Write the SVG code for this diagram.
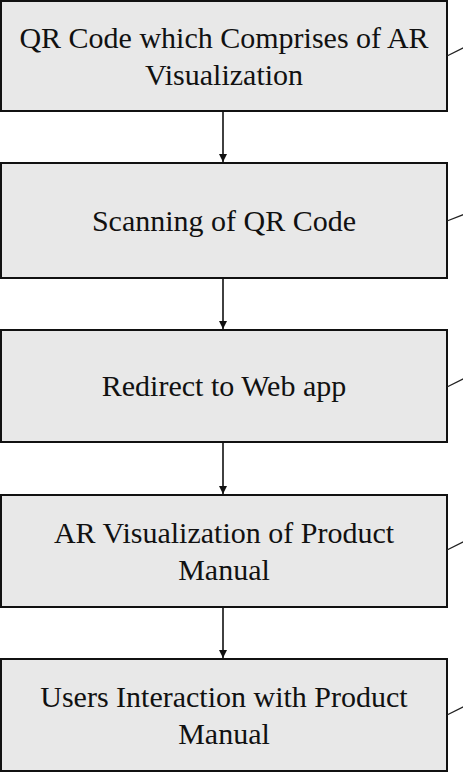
<svg xmlns="http://www.w3.org/2000/svg" width="463" height="772" viewBox="0 0 463 772">
<defs>
<style>
.box{fill:#e8e8e8;stroke:#111;stroke-width:2}
.t{font-family:"Liberation Serif","Times New Roman",serif;font-size:30px;fill:#111;text-anchor:middle}
.c{stroke:#111;stroke-width:1.6;fill:none}
.lead{stroke:#222;stroke-width:1.3;fill:none}
</style>
<marker id="ah" viewBox="0 0 8 10" refX="8" refY="5" markerWidth="8" markerHeight="10" markerUnits="userSpaceOnUse" orient="auto">
<path d="M0,1 L8,5 L0,9 Z" fill="#111"/>
</marker>
</defs>
<rect width="463" height="772" fill="#fff"/>
<g id="n1">
<rect class="box" x="1" y="1" width="446" height="110"/>
<text class="t" x="224" y="48">QR Code which Comprises of AR</text>
<text class="t" x="224" y="85">Visualization</text>
</g>
<g id="n2">
<rect class="box" x="1" y="163" width="446" height="115"/>
<text class="t" x="224" y="231">Scanning of QR Code</text>
</g>
<g id="n3">
<rect class="box" x="1" y="330" width="446" height="112"/>
<text class="t" x="224" y="396">Redirect to Web app</text>
</g>
<g id="n4">
<rect class="box" x="1" y="495" width="446" height="112"/>
<text class="t" x="224" y="543">AR Visualization of Product</text>
<text class="t" x="224" y="580">Manual</text>
</g>
<g id="n5">
<rect class="box" x="1" y="659" width="446" height="112"/>
<text class="t" x="224" y="707">Users Interaction with Product</text>
<text class="t" x="224" y="744">Manual</text>
</g>
<g id="connectors">
<line class="c" x1="223" y1="111" x2="223" y2="162" marker-end="url(#ah)"/>
<line class="c" x1="223" y1="278" x2="223" y2="329" marker-end="url(#ah)"/>
<line class="c" x1="223" y1="442" x2="223" y2="494" marker-end="url(#ah)"/>
<line class="c" x1="223" y1="607" x2="223" y2="658" marker-end="url(#ah)"/>
<line class="lead" x1="447" y1="56" x2="465" y2="47"/>
<line class="lead" x1="447" y1="221" x2="465" y2="214"/>
<line class="lead" x1="447" y1="387" x2="465" y2="378"/>
<line class="lead" x1="447" y1="550" x2="465" y2="541"/>
<line class="lead" x1="447" y1="715" x2="465" y2="706"/>
</g>
</svg>
